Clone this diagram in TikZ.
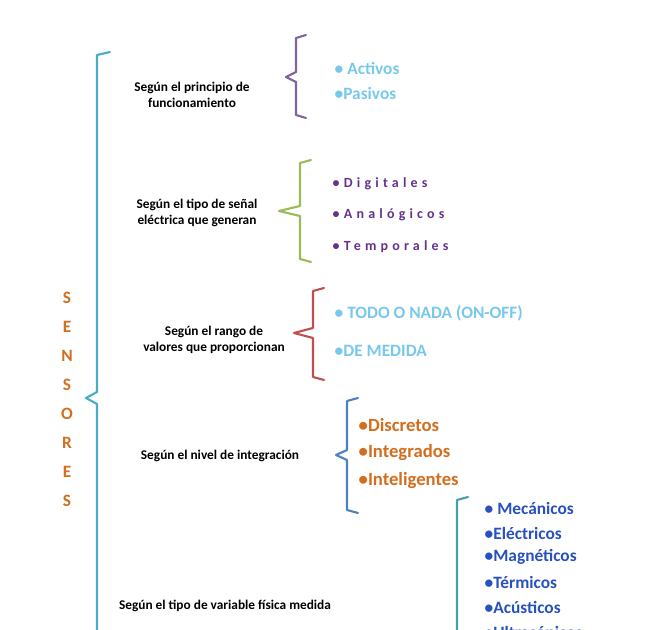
\documentclass[tikz,border=0pt]{standalone}
\usepackage{fontspec}
\setmainfont{Carlito}
\definecolor{teal1}{RGB}{75,172,198}
\definecolor{purp}{RGB}{128,100,162}
\definecolor{grn}{RGB}{155,187,89}
\definecolor{redb}{RGB}{192,80,77}
\definecolor{blu}{RGB}{79,129,189}
\definecolor{lblue}{RGB}{120,200,235}
\definecolor{dpurp}{RGB}{100,50,140}
\definecolor{orng}{RGB}{210,110,30}
\definecolor{dblue}{RGB}{40,80,190}
\definecolor{teal2}{RGB}{70,160,170}
\tikzset{
 br/.style={line width=1.6pt,line cap=round,line join=round},
 lab/.style={font=\fontsize{10}{12}\selectfont\bfseries,align=center,text=black},
 litem/.style={font=\fontsize{13}{14}\selectfont\bfseries,text=lblue,anchor=west},
 pitem/.style={font=\fontsize{10.5}{12}\selectfont\bfseries\addfontfeature{LetterSpace=30},text=dpurp,anchor=west},
 oitem/.style={font=\fontsize{14}{16}\selectfont\bfseries,text=orng,anchor=west},
 bitem/.style={font=\fontsize{13}{14}\selectfont\bfseries,text=dblue,anchor=west},
 sen/.style={font=\fontsize{13}{14}\selectfont\bfseries,text=orng}
}
\begin{document}
\begin{tikzpicture}[x=0.75pt,y=-0.75pt]
\useasboundingbox (0,0) rectangle (668,630);
\clip (0,0) rectangle (668,630);
% main brace
\draw[br,teal1] (110,52) -- (97,55) -- (97,392) -- (86,398) -- (97,404) -- (97,640);
% SENSORES
\foreach \l [count=\i] in {S,E,N,S,O,R,E,S}
  \node[sen] (s\i) at (67,{298+29*(\i-1)}) {\l};
% group 1
\draw[br,purp] (306,35) -- (296,38) -- (296,72) -- (286,77) -- (296,82) -- (296,115) -- (306,118);
\node[lab] (g1) at (192,95) {Según el principio de\\funcionamiento};
\node[litem] (a1) at (330,68) {• Activos};
\node[litem] (a2) at (330,93) {•Pasivos};
% group 2
\draw[br,grn] (311,160) -- (300,163) -- (300,206) -- (279,211) -- (300,216) -- (300,259) -- (311,262);
\node[lab] (g2) at (197,213) {Según el tipo de señal\\eléctrica que generan};
\node[pitem] (b1) at (328,184) {•Digitales};
\node[pitem] (b2) at (328,215) {•Analógicos};
\node[pitem] (b3) at (328,247) {•Temporales};
% group 3
\draw[br,redb] (324,288) -- (313,291) -- (313,328) -- (294,333) -- (313,338) -- (313,377) -- (324,380);
\node[lab] (g3) at (214,340) {Según el rango de\\valores que proporcionan};
\node[litem] (c1) at (330,313) {• TODO O NADA (ON-OFF)};
\node[litem] (c2) at (330,351) {•DE MEDIDA};
% group 4
\draw[br,blu] (358,398) -- (347,401) -- (347,450) -- (336,455) -- (347,460) -- (347,510) -- (358,513);
\node[lab] (g4) at (220,456) {Según el nivel de integración};
\node[oitem] (d1) at (354,425) {•Discretos};
\node[oitem] (d2) at (354,453) {•Integrados};
\node[oitem] (d3) at (354,481) {•Inteligentes};
% group 5
\draw[br,teal2] (468,497) -- (457,500) -- (457,640);
\node[lab] (g5) at (225,606) {Según el tipo de variable física medida};
\node[bitem] (e1) at (480,508) {• Mecánicos};
\node[bitem] (e2) at (480,533) {•Eléctricos};
\node[bitem] (e3) at (480,557) {•Magnéticos};
\node[bitem] (e4) at (480,582) {•Térmicos};
\node[bitem] (e5) at (480,607) {•Acústicos};
\node[bitem] (e6) at (480,632) {•Ultrasónicos};
\end{tikzpicture}
\end{document}
